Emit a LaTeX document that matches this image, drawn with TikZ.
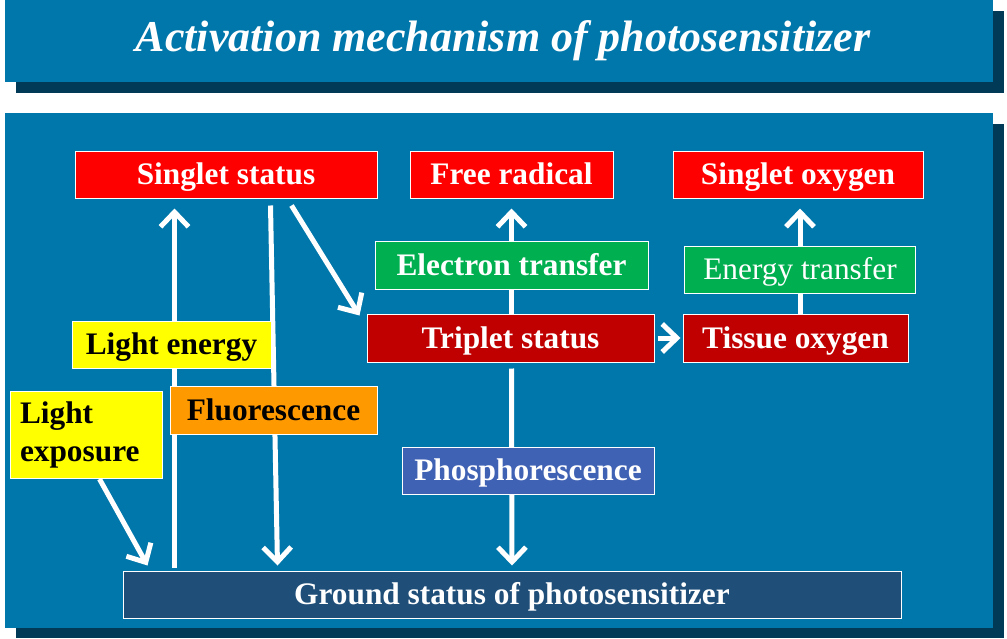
\documentclass[tikz,border=0pt]{standalone}
\usepackage{fontspec}
\setmainfont{Liberation Serif}
\usetikzlibrary{arrows.meta,positioning,calc}

\definecolor{panelblue}{RGB}{0,119,170}
\definecolor{panelshade}{RGB}{0,58,87}
\definecolor{boxred}{RGB}{255,0,0}
\definecolor{boxdark}{RGB}{192,0,0}
\definecolor{boxgreen}{RGB}{0,176,80}
\definecolor{boxorange}{RGB}{255,153,0}
\definecolor{boxyellow}{RGB}{255,255,0}
\definecolor{boxphos}{RGB}{63,98,181}
\definecolor{boxground}{RGB}{31,78,121}

\pgfdeclarelayer{back}
\pgfdeclarelayer{lines}
\pgfsetlayers{back,lines,main}

\begin{document}
\begin{tikzpicture}[x=0.75pt,y=-0.75pt,
    box/.style={draw=white,line width=0.75pt,inner sep=0pt,minimum height=35.25pt,
                text=white,font=\bfseries\fontsize{23.5}{26}\selectfont},
    rowbox/.style={box,text height=17pt,text depth=1.5pt},
    arr/.style={draw=white,line width=3.75pt,-{Straight Barb[length=11pt,width=21pt]}}]
                            \useasboundingbox (0,0) rectangle (1007,639);

                            % title bar and main panel
                            \fill[panelshade] (16,11) rectangle (1004,93);
                            \fill[panelblue]  (5,0)   rectangle (993,82);
                            \node (title) at (503,41) [text=white,font=\bfseries\itshape\fontsize{33}{36}\selectfont]
                                {Activation mechanism of photosensitizer};
                            \begin{pgfonlayer}{back}
                            \fill[panelshade] (16,124) rectangle (1004,638);
                            \fill[panelblue]  (5,113)  rectangle (993,628);
                            \end{pgfonlayer}

                            \node[rowbox,fill=boxred,minimum width=226.5pt]    (singlet)  at (226,174.5)   {Singlet status};
                            \node[rowbox,fill=boxred,minimum width=152.25pt]   (radical)  at (511.5,174.5) {Free radical};
                            \node[rowbox,fill=boxred,minimum width=187.5pt]    (sox)      at (798,174.5)   {Singlet oxygen};
                            \node[rowbox,fill=boxgreen,minimum width=204.75pt,minimum height=36pt] (electron) at (511.5,265) {Electron transfer};
                            \node[rowbox,fill=boxgreen,minimum width=173.25pt,font=\fontsize{23.5}{26}\selectfont] (energy) at (800,269.5) {Energy transfer};
                            \node[rowbox,fill=boxdark,minimum width=215.25pt,minimum height=36pt]  (triplet)  at (510.5,338) {Triplet status};
                            \node[rowbox,fill=boxdark,minimum width=168.75pt,minimum height=36pt]  (tissue)   at (795.5,338) {Tissue oxygen};
                            \node[rowbox,fill=boxyellow,text=black,minimum width=149.25pt] (lightE) at (171.5,344.5) {Light energy};
                            \node[rowbox,fill=boxorange,text=black,minimum width=155.25pt,minimum height=36pt] (fluor) at (273.5,410) {Fluorescence};
                            \node[box,fill=boxyellow,text=black,minimum width=114pt,minimum height=65.25pt,
                                  align=left,text width=99pt,font=\bfseries\fontsize{23.5}{28}\selectfont] (lightX) at (86,435) {Light\\exposure};
                            \node[rowbox,fill=boxphos,minimum width=189pt]     (phos)     at (528,470.5)   {Phosphorescence};
                            \node[rowbox,fill=boxground,minimum width=583.5pt] (ground)   at (512,594.5)   {Ground status of photosensitizer};

                            \begin{pgfonlayer}{lines}
                            \draw[arr] ($(ground.north west)+(52,-3)$)   -- ($(singlet.south west)+(100,10)$);
                            \draw[arr] ($(singlet.south west)+(196,7)$)  -- ($(ground.north west)+(155,-5)$);
                            \draw[arr] ($(singlet.south west)+(217,7)$)  -- ($(triplet.north west)+(-7,2)$);
                            \draw[arr] ($(lightX.south west)+(90,0)$)    -- ($(ground.north west)+(25,-5)$);
                            \draw[arr] ($(triplet.north)+(1,0)$)         -- ($(radical.south)+(0,10)$);
                            \draw[arr] ($(triplet.south)+(1,6)$)         -- ($(ground.north)+(0,-5)$);
                            \draw[arr] ($(tissue.north)+(4.5,0)$)        -- ($(sox.south)+(2,10)$);
                            \draw[arr] ($(triplet.east)+(3,0)$)          -- ($(tissue.west)+(-2,0)$);
                            \end{pgfonlayer}
                        \end{tikzpicture}
\end{document}
